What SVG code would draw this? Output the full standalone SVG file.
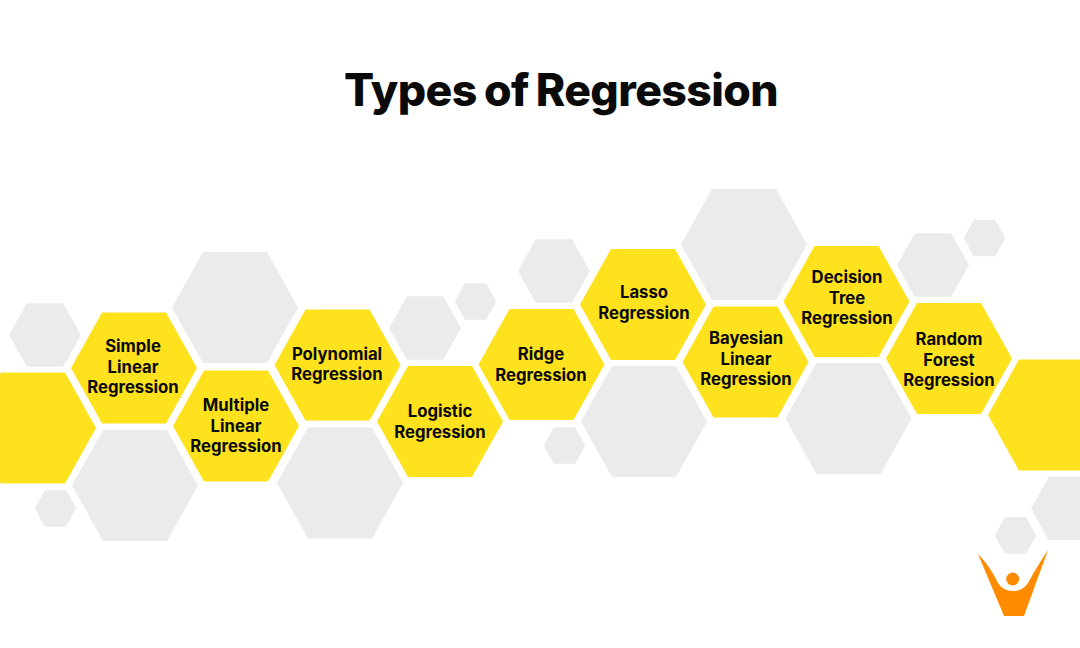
<svg xmlns="http://www.w3.org/2000/svg" width="1080" height="648" viewBox="0 0 1080 648">
<style>
.y{fill:#fee21e}.g{fill:#ebebeb}
text{font-family:Inter,"Liberation Sans",sans-serif;fill:#0a0a0a;text-anchor:middle}
.t{font-size:44.6px;font-weight:800;letter-spacing:-.6px;word-spacing:-2px}
.l{font-size:16.7px;font-weight:700}
</style>
<defs>
<polygon id="hex" points="-63,0 -32,-55.5 32,-55.5 63,0 32,55.5 -32,55.5"/>
</defs>
<rect width="1080" height="648" fill="#fff"/>
<text class="t" x="561" y="106" id="title">Types of Regression</text>
<g id="background">
<use href="#hex" class="g" transform="translate(235,307.500)"/>
<use href="#hex" class="g" transform="translate(135,485.500)"/>
<use href="#hex" class="g" transform="translate(340,483)"/>
<use href="#hex" class="g" transform="translate(644,421.500)"/>
<use href="#hex" class="g" transform="translate(744,244.500)"/>
<use href="#hex" class="g" transform="translate(848.500,418.500)"/>
<use href="#hex" class="g" transform="translate(45,335) scale(.57)"/>
<use href="#hex" class="g" transform="translate(425,328) scale(.57)"/>
<use href="#hex" class="g" transform="translate(554,271) scale(.57)"/>
<use href="#hex" class="g" transform="translate(933,265) scale(.57)"/>
<use href="#hex" class="g" transform="translate(1067,508.500) scale(.57)"/>
<use href="#hex" class="g" transform="translate(55.500,508.500) scale(.33)"/>
<use href="#hex" class="g" transform="translate(475.500,301.500) scale(.33)"/>
<use href="#hex" class="g" transform="translate(564.500,445.500) scale(.33)"/>
<use href="#hex" class="g" transform="translate(984.500,238) scale(.33)"/>
<use href="#hex" class="g" transform="translate(1015.500,535.500) scale(.33)"/>
</g>
<g id="end-left"><use href="#hex" class="y" transform="translate(33,428)"/></g>
<g id="end-right"><use href="#hex" class="y" transform="translate(1051,415)"/></g>
<g id="simple"><use href="#hex" class="y" transform="translate(134,368)"/>
<text class="l" x="133" y="352">Simple</text><text class="l" x="133" y="373">Linear</text><text class="l" x="133" y="393">Regression</text></g>
<g id="multiple"><use href="#hex" class="y" transform="translate(236,426)"/>
<text class="l" x="236" y="411">Multiple</text><text class="l" x="236" y="432">Linear</text><text class="l" x="236" y="452">Regression</text></g>
<g id="polynomial"><use href="#hex" class="y" transform="translate(337.500,365)"/>
<text class="l" x="337" y="360">Polynomial</text><text class="l" x="337" y="380">Regression</text></g>
<g id="logistic"><use href="#hex" class="y" transform="translate(440,421.500)"/>
<text class="l" x="440" y="417">Logistic</text><text class="l" x="440" y="438">Regression</text></g>
<g id="ridge"><use href="#hex" class="y" transform="translate(541.500,364.500)"/>
<text class="l" x="541" y="360">Ridge</text><text class="l" x="541" y="381">Regression</text></g>
<g id="lasso"><use href="#hex" class="y" transform="translate(643,304.500)"/>
<text class="l" x="644" y="298">Lasso</text><text class="l" x="644" y="319">Regression</text></g>
<g id="bayesian"><use href="#hex" class="y" transform="translate(745.500,362)"/>
<text class="l" x="746" y="344">Bayesian</text><text class="l" x="746" y="365">Linear</text><text class="l" x="746" y="385">Regression</text></g>
<g id="decision"><use href="#hex" class="y" transform="translate(846.500,301.500)"/>
<text class="l" x="847" y="283">Decision</text><text class="l" x="847" y="304">Tree</text><text class="l" x="847" y="324">Regression</text></g>
<g id="random"><use href="#hex" class="y" transform="translate(949,358.500)"/>
<text class="l" x="949" y="345">Random</text><text class="l" x="949" y="366">Forest</text><text class="l" x="949" y="386">Regression</text></g>
<g id="logo" fill="#ff8c00">
<path d="M978,554 Q990,566 998,583 Q1003,591 1013,591 Q1023,591 1028,583 Q1036,568 1048,550 L1024,616 L1004,616 Z"/>
<circle cx="1012.700" cy="579" r="6.500"/>
</g>
</svg>
